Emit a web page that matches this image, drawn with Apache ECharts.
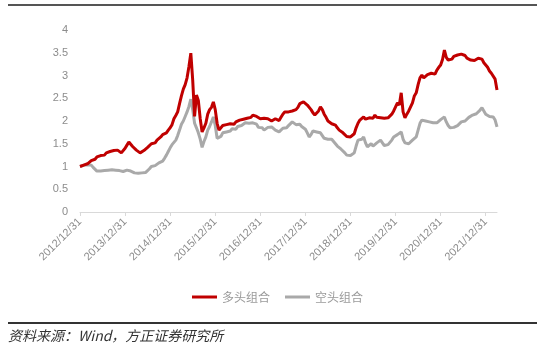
<!DOCTYPE html>
<html>
<head>
<meta charset="utf-8">
<script src="https://cdn.jsdelivr.net/npm/echarts@6/dist/echarts.min.js"></script>
<style>html,body{margin:0;padding:0;background:#fff;}#c{width:550px;height:346px;}</style>
</head>
<body>
<div id="c"></div>
<script>
// Half-month sampling from 2012/12/31 (index 0) to about 2022/03 (index 222)
const stepYears = 1 / 24;
const xTickLabels = ['2012/12/31','2013/12/31','2014/12/31','2015/12/31','2016/12/31','2017/12/31','2018/12/31','2019/12/31','2020/12/31','2021/12/31'];
const yTicks = [0, 0.5, 1, 1.5, 2, 2.5, 3, 3.5, 4];
const seriesNames = ['多头组合', '空头组合'];

const longVals = [
1.00,1.02,1.03,1.02,1.06,1.08,1.13,1.10,1.16,1.21,1.18,1.24,1.27,1.25,1.30,1.28,1.33,1.31,1.35,1.38,1.36,1.32,1.30,1.34,
1.40,1.47,1.54,1.50,1.44,1.40,1.36,1.33,1.30,1.32,1.35,1.38,1.42,1.46,1.50,1.54,1.52,1.58,1.62,1.65,1.70,1.68,1.74,1.80,
1.85,1.92,2.05,2.12,2.20,2.38,2.55,2.70,2.80,2.95,3.20,3.49,2.90,2.10,2.57,2.45,2.05,1.76,1.85,1.95,2.15,2.25,2.30,2.42,
2.25,1.95,1.80,1.84,1.90,1.87,1.92,1.90,1.94,1.97,1.93,1.98,2.00,2.02,1.98,2.04,2.02,2.06,2.04,2.08,2.13,2.15,2.10,2.06,
2.05,2.04,2.06,2.02,2.05,2.03,2.00,2.02,2.05,2.03,2.01,2.08,2.15,2.20,2.17,2.20,2.18,2.22,2.20,2.25,2.30,2.38,2.35,2.42,
2.40,2.35,2.31,2.25,2.18,2.13,2.17,2.22,2.31,2.25,2.15,2.08,2.00,1.98,1.94,1.96,1.91,1.85,1.80,1.76,1.74,1.70,1.66,1.68,
1.65,1.63,1.72,1.85,1.95,2.02,2.06,2.09,2.04,2.02,2.07,2.10,2.06,2.13,2.08,2.05,2.07,2.10,2.06,2.09,2.07,2.10,2.15,2.22,
2.31,2.40,2.35,2.62,2.20,2.07,2.15,2.22,2.31,2.40,2.55,2.62,2.80,2.95,3.01,2.95,2.97,3.02,2.98,3.05,3.08,3.03,3.12,3.18,
3.23,3.35,3.56,3.40,3.34,3.38,3.36,3.42,3.40,3.45,3.42,3.47,3.49,3.44,3.38,3.40,3.34,3.30,3.33,3.36,3.38,3.34,3.36,3.28,
3.23,3.18,3.10,3.05,3.08,2.92,2.68
];

const shortVals = [
1.00,1.02,1.03,1.05,1.04,1.07,1.03,0.98,0.95,0.90,0.88,0.90,0.93,0.91,0.94,0.92,0.95,0.93,0.90,0.92,0.94,0.91,0.92,0.89,
0.90,0.92,0.88,0.90,0.87,0.86,0.88,0.85,0.87,0.86,0.89,0.87,0.90,0.95,1.00,1.03,1.02,1.06,1.08,1.10,1.12,1.18,1.25,1.33,
1.41,1.48,1.52,1.58,1.68,1.80,1.93,2.00,2.10,2.20,2.32,2.48,2.25,1.95,1.85,1.74,1.60,1.42,1.55,1.65,1.80,1.88,1.98,2.09,
1.90,1.62,1.58,1.66,1.74,1.70,1.76,1.80,1.78,1.83,1.85,1.82,1.88,1.92,1.90,1.94,1.96,1.92,1.95,1.98,1.96,1.98,1.93,1.86,
1.82,1.85,1.80,1.83,1.86,1.82,1.87,1.84,1.80,1.78,1.76,1.80,1.84,1.87,1.85,1.90,1.94,1.98,1.95,1.92,1.90,1.93,1.88,1.85,
1.82,1.74,1.65,1.70,1.78,1.80,1.76,1.78,1.74,1.68,1.62,1.58,1.60,1.63,1.60,1.55,1.50,1.45,1.43,1.38,1.34,1.30,1.25,1.28,
1.24,1.22,1.30,1.45,1.58,1.62,1.60,1.65,1.52,1.43,1.46,1.50,1.45,1.47,1.52,1.55,1.58,1.52,1.46,1.43,1.48,1.52,1.58,1.65,
1.62,1.70,1.72,1.76,1.60,1.52,1.55,1.50,1.52,1.58,1.62,1.65,1.80,1.95,2.02,1.98,2.00,1.96,1.98,1.94,1.96,1.99,1.96,1.98,
2.03,2.06,2.09,1.98,1.90,1.85,1.88,1.86,1.87,1.90,1.94,1.98,2.02,2.00,2.04,2.08,2.10,2.13,2.10,2.16,2.20,2.24,2.29,2.22,
2.15,2.13,2.10,2.12,2.09,2.02,1.87
];

const toPairs = vals => vals.map((v, i) => [i * stepYears, v]);

const chart = echarts.init(document.getElementById('c'), null, {renderer: 'canvas'});
chart.setOption({
  animation: false,
  backgroundColor: '#ffffff',
  grid: {left: 80, right: 53, top: 30, bottom: 134},
  legend: {
    data: seriesNames,
    left: 187, top: 286,
    icon: 'rect', itemWidth: 25, itemHeight: 3, itemGap: 15,
    textStyle: {fontFamily: 'Noto Sans CJK SC', fontSize: 12, color: '#9a9a9a'}
  },
  xAxis: {
    type: 'value',
    min: 0, max: (longVals.length - 1) * stepYears,
    axisLine: {show: true, lineStyle: {color: '#d9d9d9', width: 1}},
    axisTick: {show: true, length: 4, lineStyle: {color: '#d9d9d9'}, customValues: xTickLabels.map((_, i) => i)},
    axisLabel: {
      customValues: xTickLabels.map((_, i) => i),
      formatter: v => xTickLabels[Math.round(v)],
      rotate: 45, margin: 8,
      fontFamily: 'Liberation Sans', fontSize: 11, color: '#8c8c8c'
    },
    splitLine: {show: false}
  },
  yAxis: {
    type: 'value', min: yTicks[0], max: yTicks[yTicks.length - 1], interval: 0.5,
    axisLine: {show: false}, axisTick: {show: false}, splitLine: {show: false},
    axisLabel: {margin: 12, fontFamily: 'Liberation Sans', fontSize: 11, color: '#8c8c8c'}
  },
  series: [
    {name: seriesNames[1], type: 'line', data: toPairs(shortVals), showSymbol: false,
     lineStyle: {color: '#a9a9a9', width: 3}, itemStyle: {color: '#a9a9a9'}, z: 2},
    {name: seriesNames[0], type: 'line', data: toPairs(longVals), showSymbol: false,
     lineStyle: {color: '#c00000', width: 3}, itemStyle: {color: '#c00000'}, z: 3}
  ],
  graphic: [
    {type: 'rect', shape: {x: 8, y: 4, width: 529, height: 2}, style: {fill: '#555555'}},
    {type: 'rect', shape: {x: 8, y: 322, width: 529, height: 2}, style: {fill: '#333333'}},
    {type: 'text', left: 8, top: 329, style: {text: '资料来源：Wind，方正证券研究所', fontFamily: 'Noto Sans CJK SC', fontStyle: 'italic', fontSize: 14, fill: '#333333'}}
  ]
});
</script>
</body>
</html>
